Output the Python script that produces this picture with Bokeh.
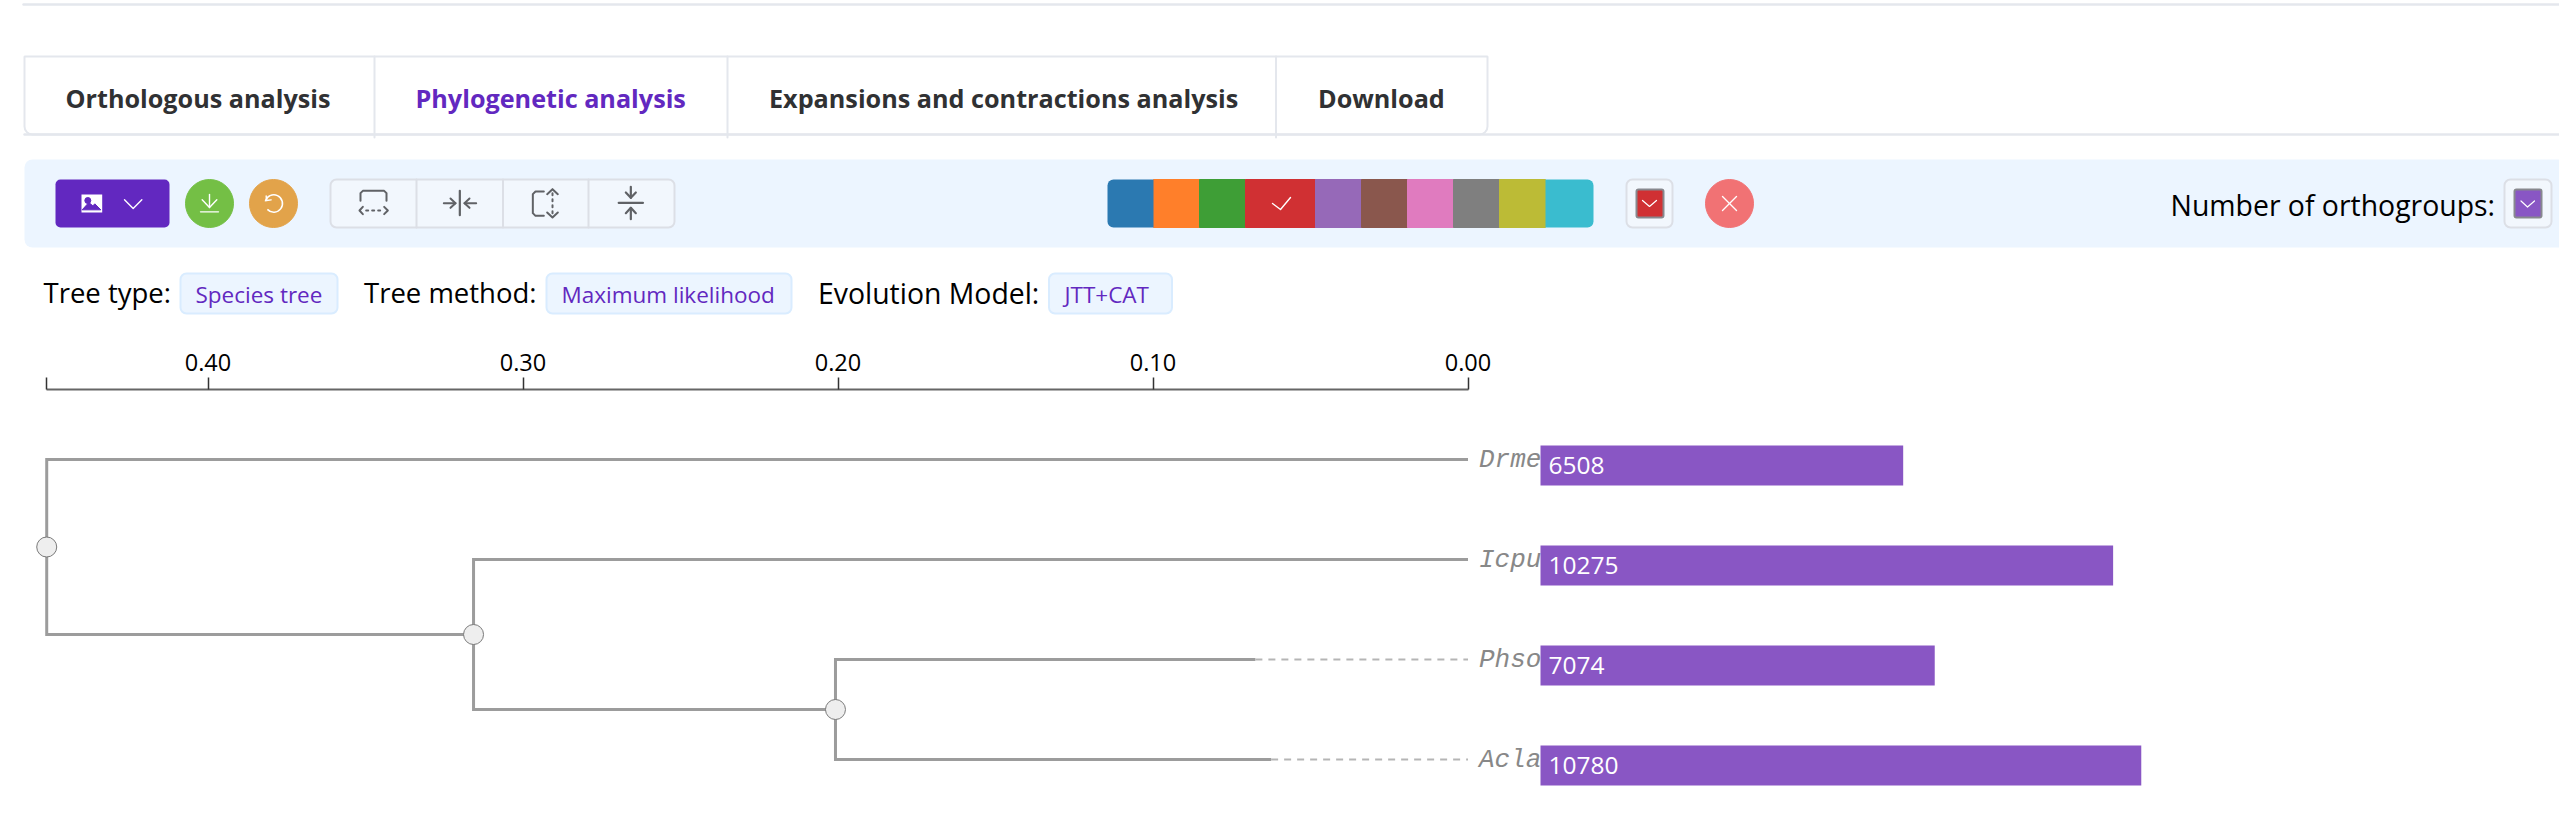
from bokeh.core.properties import value
from bokeh.embed import file_html
from bokeh.layouts import column
from bokeh.models import FixedTicker, LinearAxis, Range1d
from bokeh.plotting import figure
from bokeh.resources import INLINE

species = ["Drme", "Icpu", "Phso", "Acla"]
orthogroups = [6508, 10275, 7074, 10780]
tip_depth = [0.0, 0.0, 0.0675, 0.0625]
node_depth = [0.4512, 0.3157, 0.2008]
node_row = [0.875, 1.75, 2.5]
axis_ticks = [0.0, 0.1, 0.2, 0.3, 0.4]
palette = ["#2b79b1", "#ff7f2a", "#3e9e36", "#d03033", "#9669b8",
           "#8a574d", "#e07bbf", "#7f7f7f", "#bcbb36", "#3abccf"]
palette_edges = [1107, 1153, 1199, 1245, 1315, 1361, 1407, 1453, 1499, 1545, 1593]
tabs = ["Orthologous analysis", "Phylogenetic analysis",
        "Expansions and contractions analysis", "Download"]

W = 2559
FONT = "Open Sans"
PURPLE = "#6228c0"
ICON = "#606266"
LINE = "#e4e7ed"

# page header, drawn in screen pixels
head = figure(width=W, height=322, x_range=(0, W), y_range=(322, 0), output_backend="svg",
              toolbar_location=None, min_border=0, x_axis_type=None, y_axis_type=None)
head.grid.visible = False
head.outline_line_color = None


def box(l, r, t, b, fill, line=None, radius=0, width=2):
    head.quad(left=[l], right=[r], top=[t], bottom=[b], fill_color=fill, line_color=line,
              line_width=width, border_radius=radius)


def stroke(points, color="white", width=1.5, dash="solid"):
    head.line([a[0] for a in points], [a[1] for a in points], line_color=color, line_width=width,
              line_dash=dash, line_cap="round", line_join="round")


def label(x, y, s, color="#000000", size="27.5px", style="normal"):
    head.text([x], [y], text=[s], text_color=color, text_font=value(FONT), text_font_size=size,
              text_font_style=style, text_align="left", text_baseline="middle")


def z6(*pts):
    return [(50 + a / 3, 172 + b / 3) for a, b in pts]


def z7(*pts):
    return [(325 + a / 3, 172 + b / 3) for a, b in pts]


stroke([(23, 4), (W, 4)], LINE, 2.5)

# tabs
box(24, 1487, 134, 56, "white", LINE, (0, 0, 8, 8))
stroke([(24, 134), (W, 134)], LINE, 2.5)
for x in [374, 727, 1275.5]:
    stroke([(x, 56), (x, 137)], LINE, 2)
for x, s, c in zip([65, 415, 768.5, 1317.5], tabs, ["#303133", PURPLE, "#303133", "#303133"]):
    label(x, 97, s, c, "25.2px", "bold")

# toolbar band
box(24, W + 10, 247, 159, "#ecf5ff", None, 8)
box(55, 169, 227, 179, PURPLE, None, 5)
box(81, 101.7, 212, 194, "white")
mountain = z6((95, 112), (115, 90), (127, 100), (133, 94), (151, 112))
head.patch([a for a, b in mountain], [b for a, b in mountain], color=PURPLE)
head.scatter([87.3], [200], size=6, color=PURPLE)
stroke(z6((222, 82), (248, 108), (274, 82)), "white", 1.4)

head.scatter([209, 273], [203, 203], size=48, color=["#74bf45", "#e2a34a"])
stroke(z6((477, 66), (477, 105)), "white", 1.4)
stroke(z6((455, 82), (477, 105), (499, 82)), "white", 1.4)
stroke(z6((450, 118), (504, 118)), "white", 1.4)
head.arc([273.3], [203], radius=8.7, start_angle=-2.4, end_angle=2.9, color="white", line_width=1.6,
         direction="anticlock")
stroke(z6((647, 70), (648, 84), (662, 82)), "white", 1.4)

# layout button group
box(330, 674, 227, 179, "#f2f7fd", "#dcdfe6", 6)
for x in [416, 502.5, 588]:
    stroke([(x, 179), (x, 227)], "#dcdfe6", 2)
stroke(z7((105, 85), (105, 62), (112, 55), (176, 55), (183, 62), (183, 85)), ICON, 2)
stroke(z7((112, 103), (102, 114), (112, 125)), ICON, 2)
stroke(z7((176, 103), (187, 114), (176, 125)), ICON, 2)
stroke(z7((122, 114), (170, 114)), ICON, 2, [2, 4])
stroke(z7((403, 55), (403, 128)), ICON, 2.2)
stroke(z7((355, 92), (390, 92)), ICON, 2)
stroke(z7((375, 78), (390, 92), (375, 106)), ICON, 2)
stroke(z7((452, 92), (417, 92)), ICON, 2)
stroke(z7((432, 78), (417, 92), (432, 106)), ICON, 2)
stroke(z7((655, 57), (630, 57), (622, 65), (622, 122), (630, 130), (655, 130)), ICON, 2)
stroke(z7((681, 62), (681, 124)), ICON, 2, [2, 4])
stroke(z7((665, 65), (681, 50), (697, 65)), ICON, 2)
stroke(z7((665, 120), (681, 135), (697, 120)), ICON, 2)
stroke(z7((880, 91), (952, 91)), ICON, 2.4)
stroke(z7((916, 43), (916, 76)), ICON, 2.2)
stroke(z7((901, 60), (916, 76), (931, 60)), ICON, 2.2)
stroke(z7((916, 140), (916, 106)), ICON, 2.2)
stroke(z7((901, 122), (916, 106), (931, 122)), ICON, 2.2)

# colour picker
head.quad(left=palette_edges[1:-2], right=palette_edges[2:-1], top=227, bottom=179,
          color=palette[1:-1])
box(1545, 1593, 227, 179, palette[-1], None, (0, 6, 6, 0))
box(1107, 1153, 227, 179, palette[0], None, (6, 0, 0, 6))
stroke([(1272, 203), (1280, 209), (1290, 197)], "white", 1.4)

box(1626, 1672, 227, 179, "#f2f7fd", "#dcdfe6", 6)
box(1636, 1663, 217, 189, "#d03033", "#87888e", 2)
stroke([(1642, 200), (1649, 206), (1656, 200)], "white", 1.2)
head.scatter([1729], [203], size=48, color="#f17274")
stroke([(1722, 196), (1736, 210)], "white", 1.4)
stroke([(1736, 196), (1722, 210)], "white", 1.4)

label(2170, 204, "Number of orthogroups:", size="28.4px")
box(2504, 2551, 227, 179, "#f2f7fd", "#dcdfe6", 6)
box(2514, 2541, 217, 189, "#8956c4", "#87888e", 2)
stroke([(2520.5, 200.5), (2527, 206.5), (2534, 200.5)], "white", 1.2)

# tree info row
label(43, 292, "Tree type:")
box(180, 337, 313, 273, "#ecf5ff", "#d9ecff", 6)
label(195, 294, "Species tree", PURPLE, "22.5px")
label(363.5, 292, "Tree method:")
box(546, 791, 313, 273, "#ecf5ff", "#d9ecff", 6)
label(561, 294, "Maximum likelihood", PURPLE, "22.5px")
label(817.5, 292, "Evolution Model:", size="28.4px")
box(1048.5, 1171.5, 313, 273, "#ecf5ff", "#d9ecff", 6)
label(1064, 294, "JTT+CAT", PURPLE, "22.5px")

# tree and bars, 3150 px per unit of distance, 100 px per row
ZERO_PX = 1467.5
UNIT_PX = 3150
COUNT_ZERO_PX = 1540
COUNT_PX = 0.05573
p = figure(width=W, height=500, output_backend="svg", toolbar_location=None,
           x_range=Range1d(ZERO_PX / UNIT_PX, (ZERO_PX - W) / UNIT_PX),
           y_range=Range1d(3.63, -0.7), x_axis_type=None, y_axis_type=None,
           min_border=0, min_border_top=67)
p.extra_x_ranges["count"] = Range1d(-COUNT_ZERO_PX / COUNT_PX, (W - COUNT_ZERO_PX) / COUNT_PX)
p.grid.visible = False
p.outline_line_color = None

axis = LinearAxis(ticker=FixedTicker(ticks=axis_ticks + [node_depth[0]]),
                  bounds=(axis_ticks[0], node_depth[0]))
axis.major_label_overrides = {t: f"{t:.2f}" for t in axis_ticks} | {node_depth[0]: ""}
axis.major_tick_in = 0
axis.major_tick_out = 12
axis.minor_tick_line_color = None
axis.axis_line_color = "#666666"
axis.axis_line_width = 2
axis.major_tick_line_color = "#333333"
axis.major_tick_line_width = 1.5
axis.major_label_standoff = 7
axis.major_label_text_font = FONT
axis.major_label_text_font_size = "23.5px"
axis.major_label_text_color = "#000000"
p.add_layout(axis, "above")

BRANCH = dict(line_color="#9c9c9c", line_width=3, line_join="miter")
rows = list(range(len(species)))
xs = [[node_depth[0], node_depth[0], tip_depth[0]], [node_depth[0], node_depth[0], node_depth[1]],
      [node_depth[1], node_depth[1], tip_depth[1]], [node_depth[1], node_depth[1], node_depth[2]],
      [node_depth[2], node_depth[2], tip_depth[2]], [node_depth[2], node_depth[2], tip_depth[3]]]
ys = [[node_row[0], rows[0], rows[0]], [node_row[0], node_row[1], node_row[1]],
      [node_row[1], rows[1], rows[1]], [node_row[1], node_row[2], node_row[2]],
      [node_row[2], rows[2], rows[2]], [node_row[2], rows[3], rows[3]]]
p.multi_line(xs, ys, **BRANCH)
for d, r in zip(tip_depth, rows):
    if d > 0:
        p.line([d, 0], [r, r], line_color="#b5b5b5", line_width=2, line_dash=[7, 6])
p.scatter(node_depth, node_row, size=20, fill_color="#eeeeee", line_color="#7a7a7a", line_width=1)

p.text([0] * 4, rows, text=species, x_offset=11, text_font=value("Liberation Mono"),
       text_font_size="26px", text_font_style="italic", text_color="#888888", text_baseline="middle")
bar_rows = [r + 0.06 for r in rows]
p.hbar(y=bar_rows, left=0, right=orthogroups, height=0.4, fill_color="#8956c4", line_color=None,
       x_range_name="count")
p.text([0] * 4, bar_rows, text=[str(v) for v in orthogroups], x_offset=8, text_font=value(FONT),
       text_font_size="24.5px", text_color="white", text_baseline="middle", x_range_name="count")

page = column(head, p, spacing=0)
open("out.html", "w").write(file_html(page, INLINE))
